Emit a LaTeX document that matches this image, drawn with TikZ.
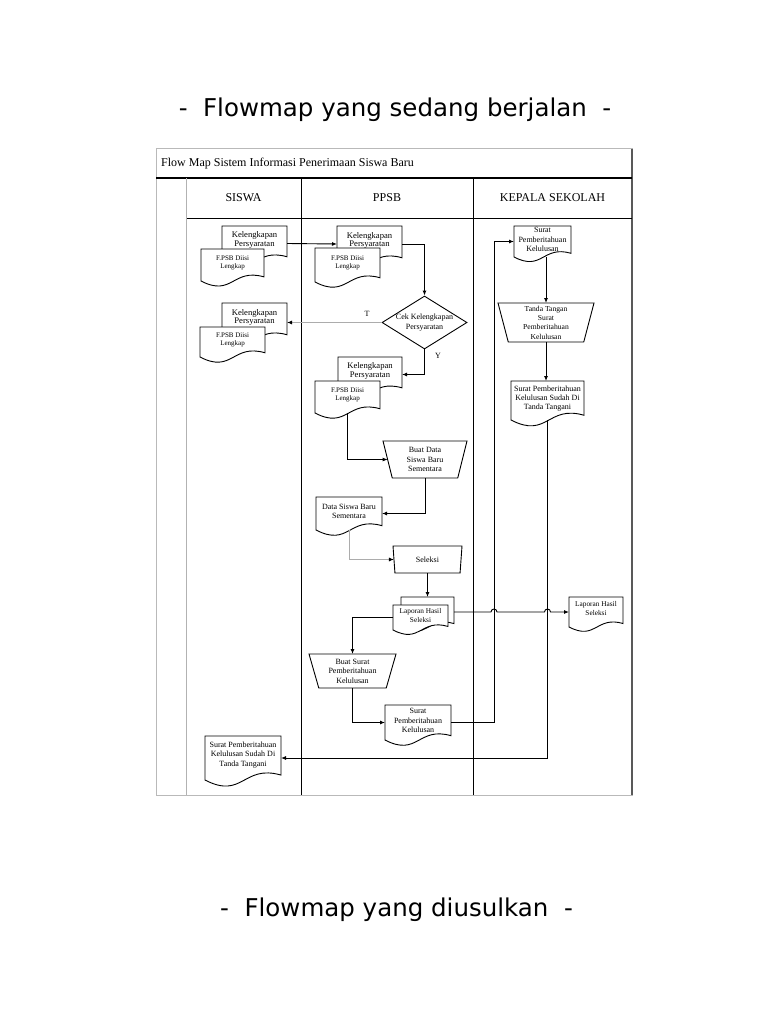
\documentclass[tikz,border=0pt]{standalone}
\usepackage{fontspec}
\setmainfont{Liberation Serif}
\newfontfamily\djv{DejaVu Sans}
\usetikzlibrary{shapes.geometric,arrows.meta,calc}
\newcommand{\fKel}{\fontsize{8.6}{8.8}\selectfont}
\newcommand{\fPSB}{\fontsize{7}{8.2}\selectfont}
\newcommand{\fLap}{\fontsize{7.3}{8.8}\selectfont}
% #2 name, #3 x1, #4 top, #5 x2, #6 left lower corner, #7 text
\newcommand{\Doc}[7][]{%
  \draw[shp] (#3,#4) -- (#5,#4) -- (#5,{#6-0.065*(#5-#3)})
    .. controls ({(#3+#5)/2},{#6-0.21*(#5-#3)}) and ({(#3+#5)/2},{#6+0.26*(#5-#3)}) .. (#3,#6) -- cycle;
  \node[box, minimum width={#5-#3}, minimum height={#6-#4}] (#2) at ({(#3+#5)/2},{(#4+#6)/2}) {};
  \node[txt,#1] at ({(#3+#5)/2},{(#4+#6)/2-2}) {#7};}
\begin{document}
\begin{tikzpicture}[x=1pt,y=-1pt,
  shp/.style={draw=black, line width=0.9pt, fill=white},
  box/.style={rectangle, inner sep=0pt, outer sep=0pt},
  txt/.style={align=center, inner sep=0pt, font=\fontsize{8}{9.3}\selectfont},
  trap/.style={shp, trapezium, trapezium stretches body, inner sep=0pt, outer sep=0pt, align=center, font=\fontsize{8}{9.4}\selectfont},
  arr/.style={line width=0.9pt, -{Latex[length=5pt,width=4pt]}},
  garr/.style={line width=0.9pt, draw=gray!65, -{Latex[length=5pt,width=4pt,black]}},
  ttl/.style={anchor=base, font=\djv\fontsize{24.5}{28}\selectfont},
  hdr/.style={font=\fontsize{12}{14}\selectfont, inner sep=0pt}]
\useasboundingbox[fill=white] (0,0) rectangle (768,1024);

% titles
\node[ttl] (t1) at (395,117) {-\ \ Flowmap yang sedang berjalan\ \ -};
\node[ttl] (t2) at (396.5,916) {-\ \ Flowmap yang diusulkan\ \ -};

% frame
\draw[gray!55, line width=1pt] (156,149) rectangle (632,795);
\draw[gray!70!black, line width=1.5pt] (632,149) -- (632,795);
\draw[line width=2pt] (156,178) -- (632,178);
\draw[line width=0.9pt] (186,218) -- (632,218);
\draw[gray!60, line width=0.9pt] (186,178) -- (186,795);
\draw[line width=0.9pt] (301,178) -- (301,795);
\draw[line width=0.9pt] (473,178) -- (473,795);
\node[hdr, anchor=west] (ft) at (161,164) {Flow Map Sistem Informasi Penerimaan Siswa Baru};
\node[hdr] (h1) at (243.5,198) {SISWA};
\node[hdr] (h2) at (387,198) {PPSB};
\node[hdr] (h3) at (552.5,198) {KEPALA SEKOLAH};

\coordinate (v1) at (494,0);

% SISWA
\Doc[font=\fKel, yshift=1.5pt]{K1}{222}{226}{287}{261}{Kelengkapan\\Persyaratan}
\Doc[font=\fPSB]{F1}{201}{249}{264}{281}{F.PSB Diisi\\Lengkap}
\Doc[font=\fKel, yshift=1.5pt]{K3}{222}{303}{287}{339}{Kelengkapan\\Persyaratan}
\Doc[font=\fPSB]{F3}{200}{327}{265}{357}{F.PSB Diisi\\Lengkap}
\Doc[yshift=1pt]{SD}{205}{736}{281}{780}{Surat Pemberitahuan\\Kelulusan Sudah Di\\Tanda Tangani}

% PPSB
\Doc[font=\fKel, yshift=1.5pt]{K2}{337}{226}{402}{262}{Kelengkapan\\Persyaratan}
\Doc[font=\fPSB]{F2}{315}{248}{380}{282}{F.PSB Diisi\\Lengkap}
\node[shp, diamond, aspect=1.6, minimum width=85, minimum height=53, inner sep=0pt, align=center, font=\fontsize{8}{9.3}\selectfont] (D) at (424.5,322.5) {Cek Kelengkapan\\Persyaratan};
\node[txt] (lT) at (367,314) {T};
\node[txt] (lY) at (438,356) {Y};
\Doc[font=\fKel, yshift=1.5pt]{K4}{338}{357}{402}{392}{Kelengkapan\\Persyaratan}
\Doc[font=\fPSB]{F4}{315}{381}{380}{413}{F.PSB Diisi\\Lengkap}
\node[trap, trapezium angle=111, minimum width=84, minimum height=37] (T1) at (425,459.5) {Buat Data\\Siswa Baru\\Sementara};
\Doc{D5}{316}{497}{382}{530}{Data Siswa Baru\\Sementara}
\node[trap, trapezium angle=109, minimum width=69, minimum height=27] (S) at (427.5,559.5) {Seleksi};
\Doc{LHb}{401}{597}{454}{627}{}
\Doc[font=\fLap]{LH}{393}{605}{448}{630}{Laporan Hasil\\Seleksi}
\node[trap, trapezium angle=112, minimum width=87, minimum height=34] (T2) at (352.5,671) {Buat Surat\\Pemberitahuan\\Kelulusan};
\Doc{SP}{385}{705}{451}{740}{Surat\\Pemberitahuan\\Kelulusan}

% KEPALA SEKOLAH
\Doc{KS1}{514}{226}{571}{257}{Surat\\Pemberitahuan\\Kelulusan}
\node[trap, trapezium angle=107, minimum width=96, minimum height=39, font=\fontsize{7.6}{9.4}\selectfont] (T3) at (546,322.5) {Tanda Tangan\\Surat\\Pemberitahuan\\Kelulusan};
\Doc{KS2}{511}{381}{584}{420}{Surat Pemberitahuan\\Kelulusan Sudah Di\\Tanda Tangani}
\Doc[font=\fLap, yshift=1.5pt]{KLH}{569}{597}{623}{627}{Laporan Hasil\\Seleksi}

% connectors
\draw[arr] (K1.east) -- (K2.west);
\draw[arr] (K2.east) -| (D.north);
\draw[garr] (D.west) -- (D.west -| K3.east);
\draw[arr] (D.south) |- (K4.east);
\draw[arr] (F4.south) |- (T1.west);
\draw[arr] (T1.south) |- (D5.east);
\draw[garr] (D5.south) |- (S.west);
\draw[arr] (S.south) -- (S.south |- LHb.north);
\draw[arr] (LH.west) -| (T2.north);
\draw[arr] (T2.south) |- (SP.west);
\draw[arr] (SP.east) -- (SP.east -| v1) |- (KS1.west);
\draw[arr] (T3.north |- KS1.south) -- (T3.north);
\draw[arr] (T3.south) -- (T3.south |- KS2.north);
\draw[arr] (KS2.south) |- (SD.east);
\draw[arr] (LHb.east) -- ($(LHb.east -| v1)+(-3,0)$) arc[start angle=180,end angle=360,radius=3]
  -- ($(LHb.east -| KS2.south)+(-3,0)$) arc[start angle=180,end angle=360,radius=3] -- (KLH.west);
\end{tikzpicture}
\end{document}
